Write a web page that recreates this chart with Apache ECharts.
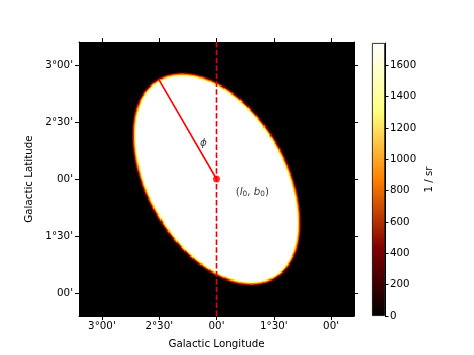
<!DOCTYPE html>
<html><head><meta charset="utf-8">
<script src="https://cdn.jsdelivr.net/npm/echarts@6/dist/echarts.min.js"></script>
<style>html,body{margin:0;padding:0;background:#fff}#c{width:474px;height:355px}</style>
</head><body><div id="c"></div>
<script>
// ---- data ----
const lonRange = [0.8, 3.2];           // deg, shown right -> left
const latRange = [0.8, 3.2];           // deg
const binSize = [0.01];                // deg, map pixel size
const center = [2.0, 2.0];             // (l0, b0) deg
const semiMajor = [1.0];               // r_0, deg
const eccentricity = [0.8];
const phiDeg = [30];                   // position angle from north toward +l
const peakValue = [1741];              // 1 / sr
const edgeWidth = [0.05];              // deg, visible soft edge
const lonTickValues = [3.0, 2.5, 2.0, 1.5, 1.0];
const lonTickLabels = ["3°00'", "2°30'", "00'", "1°30'", "00'"];
const latTickValues = [3.0, 2.5, 2.0, 1.5, 1.0];
const latTickLabels = ["3°00'", "2°30'", "00'", "1°30'", "00'"];
const cbarTickValues = [0, 200, 400, 600, 800, 1000, 1200, 1400, 1600];
const cbarMax = [1741];
const afmhot = ['#000000', '#800000', '#ff8000', '#ffff80', '#ffffff'];

// ---- model map (elliptical disk evaluated on the map bins) ----
const a = semiMajor[0];
const b = a * Math.sqrt(1 - eccentricity[0] * eccentricity[0]);
const phi = phiDeg[0] * Math.PI / 180;
const sp = Math.sin(phi), cp = Math.cos(phi);
function inside(l, bb) {
  const dl = l - center[0], db = bb - center[1];
  const u = dl * sp + db * cp, v = dl * cp - db * sp;
  return (u / a) * (u / a) + (v / b) * (v / b) <= 1;
}
const mapData = [];
const bs = binSize[0];
const nx = Math.round((lonRange[1] - lonRange[0]) / bs);
const ny = Math.round((latRange[1] - latRange[0]) / bs);
const ns = 8;
const ew = edgeWidth[0];
for (let i = 0; i < nx; i++) {
  const lc = lonRange[0] + (i + 0.5) * bs;
  for (let j = 0; j < ny; j++) {
    const bc = latRange[0] + (j + 0.5) * bs;
    let cnt = 0;
    for (let p = 0; p < ns; p++) for (let q = 0; q < ns; q++) {
      const ol = ((p + 0.5) / ns - 0.5) * ew;
      const ob = ((q + 0.5) / ns - 0.5) * ew;
      if (inside(lc + ol, bc + ob)) cnt++;
    }
    const val = peakValue[0] * cnt / (ns * ns);
    if (val > 0) mapData.push([lc, bc, val]);
  }
}

function lbl(vals, labels) {
  return function (v) {
    for (let k = 0; k < vals.length; k++) if (Math.abs(vals[k] - v) < 1e-6) return labels[k];
    return '';
  };
}
const FONT = 'DejaVu Sans';
const axisCommon = {
  axisLine: { show: true, onZero: false, lineStyle: { color: '#000', width: 1 } },
  splitLine: { show: false },
};

const chart = echarts.init(document.getElementById('c'), null, { renderer: 'canvas' });
chart.setOption({
  animation: false,
  backgroundColor: '#fff',
  textStyle: { fontFamily: FONT },
  grid: [
    { left: 79, top: 42, width: 275, height: 274, show: true, backgroundColor: '#000', borderWidth: 0 },
    { left: 372, top: 43, width: 13, height: 273 }
  ],
  visualMap: {
    show: false, type: 'continuous', seriesIndex: 0, dimension: 2,
    min: 0, max: cbarMax[0], inRange: { color: afmhot }
  },
  xAxis: [
    Object.assign({}, axisCommon, {
      type: 'value', gridIndex: 0, position: 'bottom', inverse: true,
      min: lonRange[0], max: lonRange[1],
      axisTick: { show: true, inside: false, length: 4, customValues: lonTickValues, lineStyle: { color: '#000' } },
      axisLabel: { show: true, margin: 5, customValues: lonTickValues, formatter: lbl(lonTickValues, lonTickLabels), color: '#000', fontSize: 10.3, fontFamily: FONT },
      name: 'Galactic Longitude', nameLocation: 'middle', nameGap: 23,
      nameTextStyle: { color: '#000', fontSize: 10.3, fontFamily: FONT }
    }),
    Object.assign({}, axisCommon, {
      type: 'value', gridIndex: 0, position: 'top', inverse: true,
      min: lonRange[0], max: lonRange[1],
      axisTick: { show: true, inside: false, length: 4, customValues: lonTickValues, lineStyle: { color: '#000' } },
      axisLabel: { show: false }
    }),
    { type: 'category', gridIndex: 1, data: ['cb'], show: false }
  ],
  yAxis: [
    Object.assign({}, axisCommon, {
      type: 'value', gridIndex: 0, position: 'left',
      min: latRange[0], max: latRange[1],
      axisTick: { show: true, inside: false, length: 4, customValues: latTickValues, lineStyle: { color: '#000' } },
      axisLabel: { show: true, margin: 6, customValues: latTickValues, formatter: lbl(latTickValues, latTickLabels), color: '#000', fontSize: 10.3, fontFamily: FONT },
      name: 'Galactic Latitude', nameLocation: 'middle', nameGap: 38, nameRotate: 90,
      nameTextStyle: { color: '#000', fontSize: 10.3, fontFamily: FONT }
    }),
    Object.assign({}, axisCommon, {
      type: 'value', gridIndex: 0, position: 'right',
      min: latRange[0], max: latRange[1],
      axisTick: { show: true, inside: false, length: 4, customValues: latTickValues, lineStyle: { color: '#000' } },
      axisLabel: { show: false }
    }),
    Object.assign({}, axisCommon, {
      type: 'value', gridIndex: 1, position: 'right',
      min: 0, max: cbarMax[0],
      axisTick: { show: true, inside: false, length: 3.5, customValues: cbarTickValues, lineStyle: { color: '#000' } },
      axisLabel: { show: true, margin: 5, customValues: cbarTickValues, formatter: function (v) { return String(v); }, color: '#000', fontSize: 10.3, fontFamily: FONT },
      name: '1 / sr', nameLocation: 'middle', nameGap: 39, nameRotate: 90,
      nameTextStyle: { color: '#000', fontSize: 10.3, fontFamily: FONT }
    })
  ],
  series: [
    {
      type: 'custom', xAxisIndex: 0, yAxisIndex: 0, data: mapData,
      encode: { x: 0, y: 1 }, clip: true, silent: true,
      renderItem: function (params, api) {
        const i = Math.round((api.value(0) - lonRange[0]) / bs - 0.5);
        const j = Math.round((api.value(1) - latRange[0]) / bs - 0.5);
        const pa = api.coord([lonRange[0] + i * bs, latRange[0] + j * bs]);
        const pb = api.coord([lonRange[0] + (i + 1) * bs, latRange[0] + (j + 1) * bs]);
        const x0 = Math.round(Math.min(pa[0], pb[0])), x1 = Math.round(Math.max(pa[0], pb[0]));
        const y0 = Math.round(Math.min(pa[1], pb[1])), y1 = Math.round(Math.max(pa[1], pb[1]));
        if (x1 <= x0 || y1 <= y0) return null;
        return { type: 'rect', shape: { x: x0, y: y0, width: x1 - x0, height: y1 - y0 },
                 style: { fill: api.visual('color') } };
      }
    },
    {
      type: 'line', xAxisIndex: 0, yAxisIndex: 0, symbol: 'none', silent: true,
      data: [[center[0], latRange[0]], [center[0], latRange[1]]],
      lineStyle: { color: '#e6000f', width: 1.6, type: [5.5, 2.4] }, z: 5
    },
    {
      type: 'line', xAxisIndex: 0, yAxisIndex: 0, symbol: 'none', silent: true,
      data: [[center[0], center[1]], [center[0] + a * sp, center[1] + a * cp]],
      lineStyle: { color: '#ff0000', width: 1.6 }, z: 6
    },
    {
      type: 'scatter', xAxisIndex: 0, yAxisIndex: 0, silent: true,
      data: [[center[0], center[1]]], symbolSize: 7, itemStyle: { color: '#ff0000' }, z: 7
    },
    {
      type: 'scatter', xAxisIndex: 0, yAxisIndex: 0, silent: true, symbolSize: 0, z: 8,
      data: [
        { value: [2.114, 2.316], label: { formatter: '{i|ϕ}' } },
        { value: [1.833, 1.886], label: { formatter: '{n|(}{i|l}{s|0}{n|, }{i|b}{s|0}{n|)}', align: 'left' } }
      ],
      label: {
        show: true, position: 'inside', align: 'center', verticalAlign: 'middle', color: '#000',
        rich: {
          n: { fontSize: 10.3, fontFamily: FONT, color: '#000', lineHeight: 14 },
          i: { fontSize: 10.3, fontFamily: FONT, fontStyle: 'italic', color: '#000', lineHeight: 14 },
          s: { fontSize: 7.3, fontFamily: FONT, color: '#000', lineHeight: 14, padding: [5, 0, 0, 0] }
        }
      }
    },
    {
      type: 'bar', xAxisIndex: 2, yAxisIndex: 2, data: [cbarMax[0]], barWidth: '100%', silent: true,
      itemStyle: {
        borderColor: '#000', borderWidth: 0.8,
        color: new echarts.graphic.LinearGradient(0, 1, 0, 0, afmhot.map((c, k) => ({ offset: k / (afmhot.length - 1), color: c })))
      }
    }
  ]
});
</script></body></html>
